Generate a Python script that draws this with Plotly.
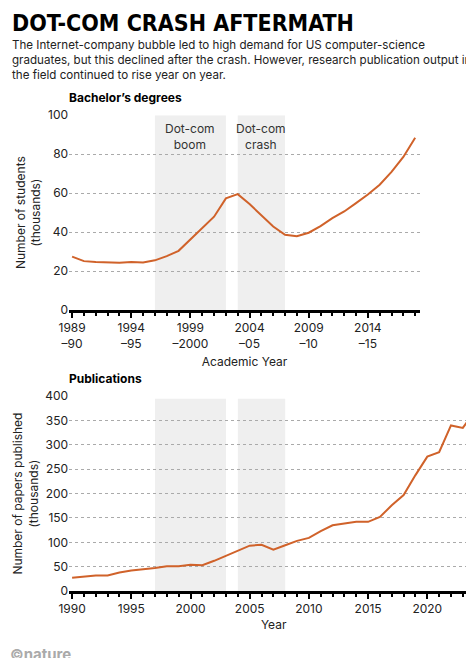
import plotly.graph_objects as go

# Bachelor's degrees (thousands), academic year start
bach_years = list(range(1989, 2019))
bach_vals = [27.4, 25.1, 24.6, 24.4, 24.3, 24.6, 24.4, 25.5, 27.7, 30.4,
             36.4, 42.2, 47.9, 57.3, 59.5, 54.4, 48.4, 42.9, 38.6, 37.9,
             39.7, 43.1, 47.2, 50.6, 54.9, 59.3, 64.3, 70.9, 78.6, 88.4]
bach_ticks = [1989, 1994, 1999, 2004, 2009, 2014]
bach_ticklabels = ["1989<br>–90", "1994<br>–95", "1999<br>–2000", "2004<br>–05", "2009<br>–10", "2014<br>–15"]

# Publications (thousands)
pub_years = list(range(1990, 2025))
pub_vals = [27, 29, 32, 32, 38, 42, 44, 47, 51, 51, 54, 53, 62, 72, 82, 93, 95, 85,
            94, 103, 109, 123, 135, 139, 142, 142, 152, 176, 197, 238, 276, 285,
            340, 335, 368]

LINE = "#d0622a"
SHADE = "#efefef"
FONT = "Inter, Roboto, sans-serif"

fig = go.Figure()
fig.add_trace(go.Scatter(x=bach_years, y=bach_vals, mode="lines",
                         line=dict(color=LINE, width=2), xaxis="x", yaxis="y"))
fig.add_trace(go.Scatter(x=pub_years, y=pub_vals, mode="lines",
                         line=dict(color=LINE, width=2), xaxis="x2", yaxis="y2"))

# shaded periods
for x0, x1 in [(1996, 2002), (2003, 2007)]:
    fig.add_shape(type="rect", xref="x", yref="y", x0=x0, x1=x1, y0=0, y1=100,
                  fillcolor=SHADE, line_width=0, layer="below")
for x0, x1 in [(1997, 2003), (2004, 2008)]:
    fig.add_shape(type="rect", xref="x2", yref="y2", x0=x0, x1=x1, y0=0, y1=395,
                  fillcolor=SHADE, line_width=0, layer="below")

fig.add_annotation(x=1999, y=98, xref="x", yref="y", text="Dot-com<br>boom",
                   showarrow=False, yanchor="top", font=dict(size=12, color="#333"))
fig.add_annotation(x=2005, y=98, xref="x", yref="y", text="Dot-com<br>crash",
                   showarrow=False, yanchor="top", font=dict(size=12, color="#333"))

axis_common = dict(showline=True, linecolor="black", linewidth=2.5, ticks="outside",
                   tickcolor="black", ticklen=5, tickwidth=1.5, showgrid=False,
                   zeroline=False, tickfont=dict(size=12, color="#222"), automargin=False,
                   minor=dict(ticks="outside", ticklen=3, tickcolor="black", dtick=1))
yaxis_common = dict(showgrid=True, gridcolor="#aaa", griddash="dot", gridwidth=1,
                    zeroline=False, showline=False, ticks="", automargin=False,
                    tickfont=dict(size=12, color="#222"))

fig.update_layout(
    width=474, height=658, margin=dict(l=0, r=0, t=0, b=0),
    paper_bgcolor="white", plot_bgcolor="white", showlegend=False,
    font=dict(family=FONT, color="#222"),
    xaxis=dict(domain=[0.129, 0.869], range=[1988.75, 2018.4], tickvals=bach_ticks,
               ticktext=bach_ticklabels, anchor="y",
               title=dict(text="Academic Year", font=dict(size=12), standoff=8), **axis_common),
    yaxis=dict(domain=[0.541, 0.837], range=[0, 100], dtick=20, anchor="x",
               title=dict(text="Number of students<br>(thousands)", font=dict(size=12), standoff=4),
               **yaxis_common),
    xaxis2=dict(domain=[0.129, 0.992], range=[1989.75, 2024.3], dtick=5, anchor="y2",
                title=dict(text="Year", font=dict(size=12), standoff=6), **axis_common),
    yaxis2=dict(domain=[0.114, 0.410], range=[0, 400], dtick=50, anchor="x2",
                title=dict(text="Number of papers published<br>(thousands)", font=dict(size=12), standoff=4),
                **yaxis_common),
)

fig.add_annotation(x=0.005, y=1.0, xref="paper", yref="paper", xanchor="left", yanchor="top",
                   text="<b>DOT-COM CRASH AFTERMATH</b>", showarrow=False,
                   font=dict(family="Liberation Sans Narrow, DejaVu Sans Condensed, sans-serif", size=23, color="black"))
fig.add_annotation(x=0.005, y=0.957, xref="paper", yref="paper", xanchor="left", yanchor="top", align="left",
                   text="The Internet-company bubble led to high demand for US computer-science<br>"
                        "graduates, but this declined after the crash. However, research publication output in<br>"
                        "the field continued to rise year on year.",
                   showarrow=False, font=dict(size=11.6, color="#222"))
fig.add_annotation(x=0.125, y=0.878, xref="paper", yref="paper", xanchor="left", yanchor="top",
                   text="<b>Bachelor’s degrees</b>", showarrow=False, font=dict(size=12, color="black"))
fig.add_annotation(x=0.125, y=0.452, xref="paper", yref="paper", xanchor="left", yanchor="top",
                   text="<b>Publications</b>", showarrow=False, font=dict(size=12, color="black"))
fig.add_annotation(x=0.0, y=0.0, xref="paper", yref="paper", xanchor="left", yanchor="bottom",
                   text="<b>©nature</b>", showarrow=False, font=dict(size=15, color="#aaa"))

fig.write_html("out.html")
